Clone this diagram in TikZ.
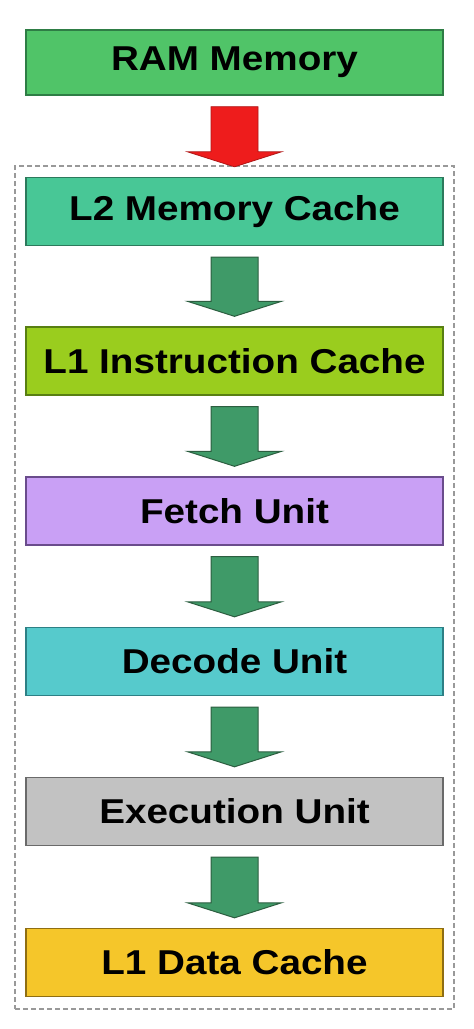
\documentclass[tikz,border=0pt]{standalone}
\usepackage{fontspec}
\newfontfamily\boxfont[FakeStretch=1.12]{Liberation Sans}
\usetikzlibrary{calc}
\definecolor{ramfill}{HTML}{50C468}\definecolor{ramdraw}{HTML}{2E7D45}
\definecolor{ltwofill}{HTML}{48C796}\definecolor{ltwodraw}{HTML}{2C7A5C}
\definecolor{lifill}{HTML}{9ACD1E}\definecolor{lidraw}{HTML}{587F12}
\definecolor{fetchfill}{HTML}{C9A0F5}\definecolor{fetchdraw}{HTML}{6A4C8C}
\definecolor{decfill}{HTML}{56CACC}\definecolor{decdraw}{HTML}{2D8085}
\definecolor{exefill}{HTML}{C2C2C2}\definecolor{exedraw}{HTML}{6A6A6A}
\definecolor{ldfill}{HTML}{F5C62A}\definecolor{lddraw}{HTML}{8F6E12}
\definecolor{arrfill}{HTML}{3F9A68}\definecolor{arrdraw}{HTML}{2C5E40}
\definecolor{redfill}{HTML}{EE1C1C}\definecolor{reddraw}{HTML}{B01515}
\tikzset{
  x=1pt,y=-1pt,
  unitbox/.style={rectangle, minimum width=417pt, minimum height=68pt, inner sep=0pt,
    line width=1.4pt, font=\boxfont\bfseries\fontsize{34.5}{36}\selectfont, text=black},
  greenarrow/.style={fill=arrfill, draw=arrdraw, line width=1pt, line join=miter},
  redarrow/.style={fill=redfill, draw=reddraw, line width=0.8pt, line join=miter},
  groupbox/.style={draw=gray!80, dashed, dash pattern=on 5pt off 3pt, line width=1.4pt}
}
\newcommand\blockarrow[3]{%
  \draw[#3] ($(#1.south)+(-23.5,11)$) -- ($(#1.south)+(23.5,11)$)
    -- ($(#2.north)+(23.5,-25)$) -- ($(#2.north)+(47,-25)$)
    -- ($(#2.north)+(0,-10)$) -- ($(#2.north)+(-47,-25)$)
    -- ($(#2.north)+(-23.5,-25)$) -- cycle;}
\begin{document}
\begin{tikzpicture}
\useasboundingbox[fill=white] (0,0) rectangle (474,1029);
\node[groupbox, rectangle, minimum width=439pt, minimum height=843pt, inner sep=0pt] (grp) at (234.5,587.5) {};
\node[unitbox, fill=ramfill, draw=ramdraw, minimum height=65pt] (ram) at (234.5,62.5) {RAM Memory};
\node[unitbox, fill=ltwofill, draw=ltwodraw] (ltwo) at (234.5,211.5) {L2 Memory Cache};
\node[unitbox, fill=lifill, draw=lidraw] (li) at (234.5,361) {L1 Instruction Cache};
\node[unitbox, fill=fetchfill, draw=fetchdraw] (fetch) at (234.5,511) {Fetch Unit};
\node[unitbox, fill=decfill, draw=decdraw] (dec) at (234.5,661.5) {Decode Unit};
\node[unitbox, fill=exefill, draw=exedraw] (exe) at (234.5,811.5) {Execution Unit};
\node[unitbox, fill=ldfill, draw=lddraw] (ld) at (234.5,962.5) {L1 Data Cache};
\blockarrow{ram}{ltwo}{redarrow}
\blockarrow{ltwo}{li}{greenarrow}
\blockarrow{li}{fetch}{greenarrow}
\blockarrow{fetch}{dec}{greenarrow}
\blockarrow{dec}{exe}{greenarrow}
\blockarrow{exe}{ld}{greenarrow}
\end{tikzpicture}
\end{document}
